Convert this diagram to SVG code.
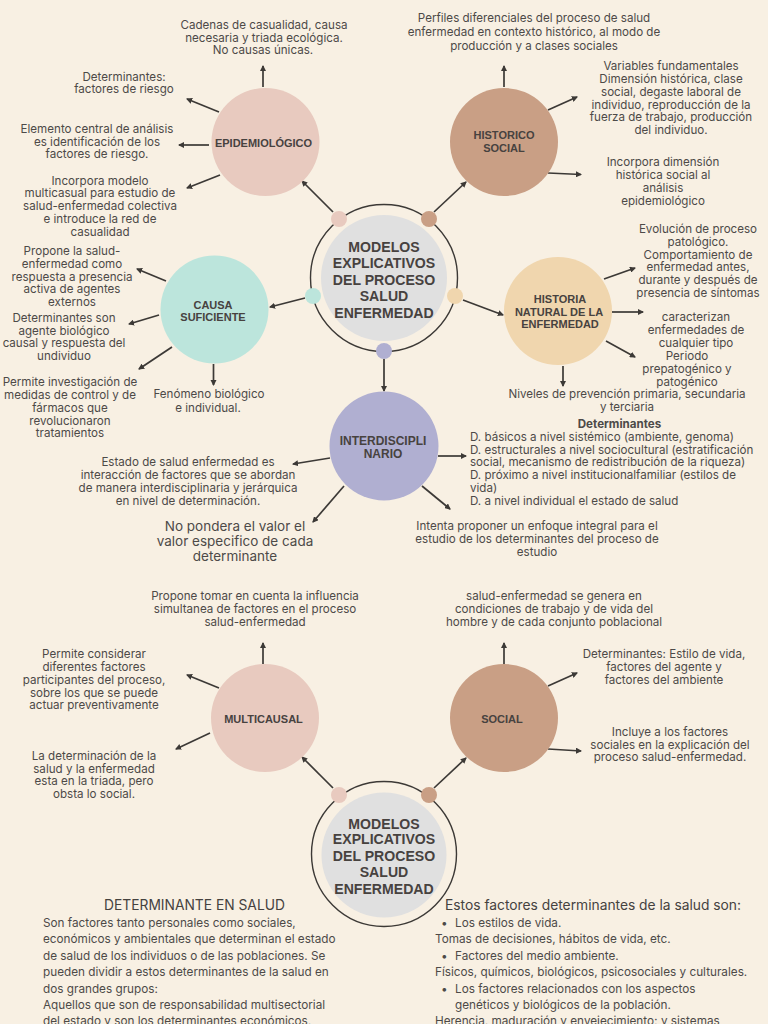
<svg xmlns="http://www.w3.org/2000/svg" width="768" height="1024" viewBox="0 0 768 1024">
<style>
text{font-family:"Inter","Noto Sans",sans-serif;fill:#4d4a48;font-size:11.6px}
.c{text-anchor:middle}
.l{font-family:"Liberation Sans",Arial,sans-serif;font-weight:700;font-size:11px;text-anchor:middle;fill:#47423f}
.m{font-family:"Liberation Sans",Arial,sans-serif;font-weight:700;font-size:14.1px;text-anchor:middle;fill:#47423f}
.b{font-size:11.76px}
.h{font-size:13.8px;fill:#45423f}
.a line{stroke:#3c3936;stroke-width:1.7;fill:none;marker-end:url(#ah)}
.ring{fill:none;stroke:#3c3936;stroke-width:1.4}
</style>
<defs><marker id="ah" viewBox="0 0 6 6" refX="5" refY="3" markerWidth="3.6" markerHeight="3.6" orient="auto"><path d="M0 0L6 3L0 6z" fill="#3c3936"/></marker></defs>
<rect width="768" height="1024" fill="#f8f0e3"/>
<g id="connectors" class="a">
<line x1="263" y1="87" x2="263" y2="66"/><line x1="219" y1="112" x2="187" y2="99"/><line x1="209" y1="145" x2="179" y2="145"/><line x1="220" y1="175" x2="187" y2="188"/><line x1="333" y1="212" x2="302" y2="181"/>
<line x1="504" y1="87" x2="504" y2="66"/><line x1="548" y1="110" x2="577" y2="97"/><line x1="548" y1="173" x2="581" y2="174.5"/><line x1="434" y1="212" x2="466" y2="182"/>
<line x1="166" y1="281" x2="137" y2="269"/><line x1="159" y1="315" x2="129" y2="324"/><line x1="172" y1="347" x2="139" y2="369"/><line x1="213.5" y1="364" x2="213.5" y2="385"/><line x1="305" y1="298" x2="270" y2="307"/>
<line x1="463" y1="300" x2="503" y2="315"/><line x1="604" y1="279" x2="635" y2="268"/><line x1="612" y1="312" x2="643" y2="312"/><line x1="606" y1="341" x2="635" y2="357"/><line x1="563" y1="366" x2="563" y2="386"/>
<line x1="384" y1="359" x2="384" y2="391"/><line x1="438" y1="456" x2="466" y2="456"/><line x1="422" y1="486" x2="450" y2="509"/><line x1="330" y1="458" x2="293" y2="464"/><line x1="344" y1="486" x2="313" y2="522"/>
<line x1="263" y1="664" x2="263" y2="643"/><line x1="219" y1="688" x2="187" y2="675"/><line x1="210" y1="733" x2="176" y2="749"/><line x1="333" y1="788" x2="302" y2="757"/>
<line x1="504" y1="664" x2="504" y2="643"/><line x1="548" y1="686" x2="577" y2="673"/><line x1="548" y1="749" x2="581" y2="751"/><line x1="434" y1="788" x2="466" y2="758"/>
</g>
<g id="centro1"><circle cx="384" cy="278" r="73.5" class="ring"/><circle cx="384" cy="278" r="63" fill="#e0e0e0"/>
<text class="m"><tspan x="384" y="252">MODELOS</tspan><tspan x="384" y="268">EXPLICATIVOS</tspan><tspan x="384" y="285">DEL PROCESO</tspan><tspan x="384" y="301">SALUD</tspan><tspan x="384" y="318">ENFERMEDAD</tspan></text>
<circle cx="339" cy="219" r="8" fill="#e8cabf"/><circle cx="429" cy="219" r="8" fill="#c99f85"/><circle cx="313" cy="296" r="8" fill="#bce5dc"/><circle cx="455" cy="296" r="8" fill="#f0d6ae"/><circle cx="384" cy="351" r="8" fill="#b0afd1"/></g>
<g id="epidemiologico"><circle cx="265.5" cy="142" r="54" fill="#e8cabf"/><text class="l" x="263.5" y="147">EPIDEMIOLÓGICO</text></g>
<g id="historico"><circle cx="504" cy="142" r="54" fill="#c99f85"/><text class="l"><tspan x="504" y="139">HISTORICO</tspan><tspan x="504" y="152">SOCIAL</tspan></text></g>
<g id="causa"><circle cx="214.5" cy="309.5" r="54" fill="#bce5dc"/><text class="l"><tspan x="213" y="309">CAUSA</tspan><tspan x="213" y="321">SUFICIENTE</tspan></text></g>
<g id="historia"><circle cx="558" cy="311" r="54" fill="#f0d6ae"/><text class="l"><tspan x="560" y="303">HISTORIA</tspan><tspan x="559" y="316">NATURAL DE LA</tspan><tspan x="560" y="328">ENFERMEDAD</tspan></text></g>
<g id="interdisciplinario"><circle cx="384" cy="446" r="54.5" fill="#b0afd1"/><text class="l" style="font-size:12px"><tspan x="383" y="445">INTERDISCIPLI</tspan><tspan x="383" y="458">NARIO</tspan></text></g>
<g id="epi-textos" class="c">
<text class="c"><tspan x="264" y="29">Cadenas de casualidad, causa</tspan><tspan x="264" y="42">necesaria y triada ecológica.</tspan><tspan x="263" y="54">No causas únicas.</tspan></text>
<text class="c"><tspan x="124" y="81">Determinantes:</tspan><tspan x="124" y="93">factores de riesgo</tspan></text>
<text class="c"><tspan x="97" y="133">Elemento central de análisis</tspan><tspan x="97" y="146">es identificación de los</tspan><tspan x="97" y="158">factores de riesgo.</tspan></text>
<text class="c"><tspan x="100" y="185">Incorpora modelo</tspan><tspan x="100" y="197">multicasual para estudio de</tspan><tspan x="100" y="210">salud-enfermedad colectiva</tspan><tspan x="100" y="223">e introduce la red de</tspan><tspan x="100" y="236">casualidad</tspan></text>
</g>
<g id="hist-textos">
<text class="c"><tspan x="534" y="22">Perfiles diferenciales del proceso de salud</tspan><tspan x="534" y="36">enfermedad en contexto histórico, al modo de</tspan><tspan x="534" y="50">producción y a clases sociales</tspan></text>
<text class="c"><tspan x="671" y="70">Variables fundamentales</tspan><tspan x="671" y="83">Dimensión histórica, clase</tspan><tspan x="671" y="96">social, degaste laboral de</tspan><tspan x="671" y="109">individuo, reproducción de la</tspan><tspan x="671" y="121">fuerza de trabajo, producción</tspan><tspan x="671" y="134">del individuo.</tspan></text>
<text class="c"><tspan x="663" y="166">Incorpora dimensión</tspan><tspan x="663" y="179">histórica social al</tspan><tspan x="663" y="192">análisis</tspan><tspan x="663" y="205">epidemiológico</tspan></text>
</g>
<g id="causa-textos">
<text class="c"><tspan x="72" y="255">Propone la salud-</tspan><tspan x="72" y="268">enfermedad como</tspan><tspan x="72" y="281">respuesta a presencia</tspan><tspan x="72" y="293">activa de agentes</tspan><tspan x="72" y="306">externos</tspan></text>
<text class="c"><tspan x="64" y="322">Determinantes son</tspan><tspan x="64" y="335">agente biológico</tspan><tspan x="64" y="347">causal y respuesta del</tspan><tspan x="64" y="360">undividuo</tspan></text>
<text class="c"><tspan x="70" y="386">Permite investigación de</tspan><tspan x="70" y="399">medidas de control y de</tspan><tspan x="70" y="412">fármacos que</tspan><tspan x="70" y="425">revolucionaron</tspan><tspan x="70" y="437">tratamientos</tspan></text>
<text class="c"><tspan x="209" y="398">Fenómeno biológico</tspan><tspan x="208" y="412">e individual.</tspan></text>
</g>
<g id="historia-textos">
<text class="c"><tspan x="698" y="233">Evolución de proceso</tspan><tspan x="698" y="246">patológico.</tspan><tspan x="698" y="259">Comportamiento de</tspan><tspan x="698" y="271">enfermedad antes,</tspan><tspan x="698" y="284">durante y después de</tspan><tspan x="698" y="297">presencia de síntomas</tspan></text>
<text class="c"><tspan x="696" y="321">caracterizan</tspan><tspan x="696" y="334">enfermedades de</tspan><tspan x="696" y="347">cualquier tipo</tspan></text>
<text class="c"><tspan x="687" y="360">Periodo</tspan><tspan x="687" y="373">prepatogénico y</tspan><tspan x="687" y="386">patogénico</tspan></text>
<text class="c"><tspan x="627" y="398">Niveles de prevención primaria, secundaria</tspan><tspan x="627" y="411">y terciaria</tspan></text>
</g>
<g id="inter-textos">
<text class="c" style="font-weight:700" x="619.5" y="428">Determinantes</text>
<text><tspan x="470" y="441">D. básicos a nivel sistémico (ambiente, genoma)</tspan><tspan x="470" y="454">D. estructurales a nivel sociocultural (estratificación</tspan><tspan x="470" y="466">social, mecanismo de redistribución de la riqueza)</tspan><tspan x="470" y="479">D. próximo a nivel institucionalfamiliar (estilos de</tspan><tspan x="470" y="492">vida)</tspan><tspan x="470" y="505">D. a nivel individual el estado de salud</tspan></text>
<text class="c"><tspan x="537" y="530">Intenta proponer un enfoque integral para el</tspan><tspan x="537" y="543">estudio de los determinantes del proceso de</tspan><tspan x="537" y="556">estudio</tspan></text>
<text class="c"><tspan x="188" y="466">Estado de salud enfermedad es</tspan><tspan x="188" y="479">interacción de factores que se abordan</tspan><tspan x="188" y="492">de manera interdisciplinaria y jerárquica</tspan><tspan x="188" y="505">en nivel de determinación.</tspan></text>
<text class="c" style="font-size:13.5px"><tspan x="235" y="531">No pondera el valor el</tspan><tspan x="235" y="546">valor especifico de cada</tspan><tspan x="235" y="561">determinante</tspan></text>
</g>
<g id="centro2"><circle cx="384" cy="854" r="72.5" class="ring"/><circle cx="384" cy="855" r="62.5" fill="#e0e0e0"/>
<text class="m"><tspan x="384" y="829">MODELOS</tspan><tspan x="384" y="844">EXPLICATIVOS</tspan><tspan x="384" y="861">DEL PROCESO</tspan><tspan x="384" y="877">SALUD</tspan><tspan x="384" y="894">ENFERMEDAD</tspan></text>
<circle cx="339" cy="795" r="8" fill="#e8cabf"/><circle cx="429" cy="795" r="8" fill="#c99f85"/></g>
<g id="multicausal"><circle cx="265" cy="718" r="54" fill="#e8cabf"/><text class="l" x="263.5" y="723">MULTICAUSAL</text></g>
<g id="social"><circle cx="504" cy="718" r="54" fill="#c99f85"/><text class="l" x="502" y="723">SOCIAL</text></g>
<g id="multi-textos">
<text class="c"><tspan x="255" y="600">Propone tomar en cuenta la influencia</tspan><tspan x="255" y="613">simultanea de factores en el proceso</tspan><tspan x="255" y="626">salud-enfermedad</tspan></text>
<text class="c"><tspan x="94" y="658">Permite considerar</tspan><tspan x="94" y="671">diferentes factores</tspan><tspan x="94" y="684">participantes del proceso,</tspan><tspan x="94" y="697">sobre los que se puede</tspan><tspan x="94" y="709">actuar preventivamente</tspan></text>
<text class="c"><tspan x="94" y="760">La determinación de la</tspan><tspan x="94" y="773">salud y la enfermedad</tspan><tspan x="94" y="785">esta en la triada, pero</tspan><tspan x="94" y="798">obsta lo social.</tspan></text>
</g>
<g id="social-textos">
<text class="c"><tspan x="554" y="600">salud-enfermedad se genera en</tspan><tspan x="554" y="613">condiciones de trabajo y de vida del</tspan><tspan x="554" y="626">hombre y de cada conjunto poblacional</tspan></text>
<text class="c"><tspan x="664" y="658">Determinantes: Estilo de vida,</tspan><tspan x="664" y="671">factores del agente y</tspan><tspan x="664" y="684">factores del ambiente</tspan></text>
<text class="c"><tspan x="670" y="736">Incluye a los factores</tspan><tspan x="670" y="749">sociales en la explicación del</tspan><tspan x="670" y="761">proceso salud-enfermedad.</tspan></text>
</g>
<g id="determinante">
<text class="c h" x="194.5" y="910">DETERMINANTE EN SALUD</text>
<text class="b"><tspan x="43" y="927">Son factores tanto personales como sociales,</tspan><tspan x="43" y="943">económicos y ambientales que determinan el estado</tspan><tspan x="43" y="960">de salud de los individuos o de las poblaciones. Se</tspan><tspan x="43" y="976">pueden dividir a estos determinantes de la salud en</tspan><tspan x="43" y="993">dos grandes grupos:</tspan><tspan x="43" y="1009">Aquellos que son de responsabilidad multisectorial</tspan><tspan x="43" y="1025">del estado y son los determinantes económicos,</tspan></text>
</g>
<g id="factores">
<text class="h" x="445" y="910">Estos factores determinantes de la salud son:</text>
<text class="b"><tspan x="441" y="927">•</tspan><tspan x="455" y="927">Los estilos de vida.</tspan><tspan x="435" y="943">Tomas de decisiones, hábitos de vida, etc.</tspan><tspan x="441" y="960">•</tspan><tspan x="455" y="960">Factores del medio ambiente.</tspan><tspan x="435" y="976">Físicos, químicos, biológicos, psicosociales y culturales.</tspan><tspan x="441" y="993">•</tspan><tspan x="455" y="993">Los factores relacionados con los aspectos</tspan><tspan x="455" y="1009">genéticos y biológicos de la población.</tspan><tspan x="435" y="1025">Herencia, maduración y envejecimiento; y sistemas</tspan></text>
</g>
</svg>
